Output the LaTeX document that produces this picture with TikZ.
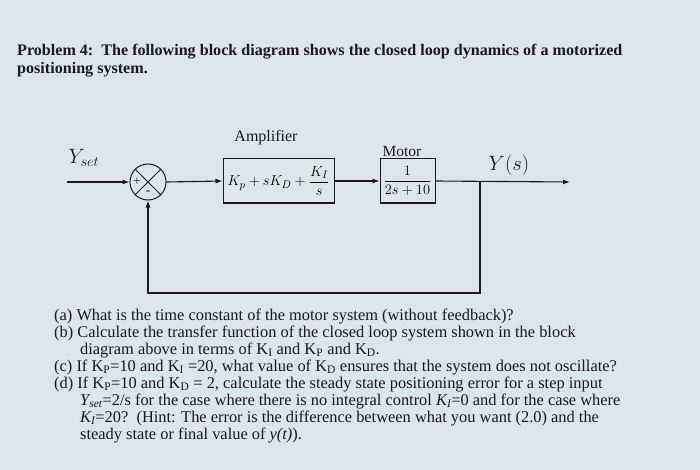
\documentclass[tikz,border=0pt]{standalone}
\usepackage{amsmath}
\usepackage{fontspec}
\setmainfont{Liberation Serif}
\usetikzlibrary{arrows.meta}
\definecolor{bg}{RGB}{222,229,232}
\definecolor{ink}{RGB}{25,25,30}
\tikzset{
  blk/.style={draw=ink,line width=1pt,minimum height=44pt,inner sep=2pt},
  sig/.style={draw=ink,line width=1.1pt,-{Latex[length=7pt,width=5pt]}},
  ln/.style={draw=ink,line width=1pt},
  txt/.style={anchor=base west,inner sep=0pt,text=ink,font=\fontsize{16.4}{17}\selectfont},
}
\begin{document}
\begin{tikzpicture}[x=1pt,y=-1pt]
\fill[bg] (0,0) rectangle (700,470);
\useasboundingbox (0,0) rectangle (700,470);
\node[txt,font=\fontsize{16.1}{17}\selectfont\bfseries] (t1) at (17,56) {Problem 4:\ \ The following block diagram shows the closed loop dynamics of a motorized};
\node[txt,font=\fontsize{16.1}{17}\selectfont\bfseries] (t2) at (17,74) {positioning system.};
% diagram
\node[circle,draw=ink,line width=1pt,minimum size=36pt,inner sep=0pt] (sum) at (148,182) {};
\draw[ln] (sum.north west) -- (sum.south east) (sum.north east) -- (sum.south west);
\node[text=ink,font=\fontsize{13}{13}\selectfont,inner sep=0pt] (plus) at (137,182) {+};
\node[text=ink,font=\fontsize{13}{13}\selectfont\bfseries,inner sep=0pt] (minus) at (148,193) {-};
\node[blk,minimum width=111pt,font=\fontsize{15}{17}\selectfont] (amp) at (278.5,181) {$K_p+sK_D+\dfrac{K_I}{s}$};
\node[blk,minimum width=55pt,font=\fontsize{14}{17}\selectfont] (mot) at (407.5,181) {$\dfrac{1}{2s+10}$};
\node[text=ink,font=\fontsize{16}{17}\selectfont] (al) at (266,138) {Amplifier};
\node[text=ink,font=\fontsize{15.5}{17}\selectfont] (ml) at (402,152) {Motor};
\node[text=ink,font=\fontsize{21}{24}\selectfont] (ys) at (509,165) {$Y(s)$};
\node[text=ink,font=\fontsize{21}{24}\selectfont] (yset) at (84,158) {$Y_{set}$};
\coordinate (in) at (67,182);
\coordinate (br) at (480,182);
\coordinate (out) at (570,182);
\coordinate (fb1) at (480,293);
\coordinate (fb2) at (148,293);
\draw[sig] (in) -- (sum.west);
\draw[sig] (sum.east) -- (amp.west);
\draw[sig] (amp.east) -- (mot.west);
\draw[sig] (mot.east) -- (out);
\draw[sig] (br) -- (fb1) -- (fb2) -- (sum.south);
% questions
\node[txt] (qa) at (54,320) {(a)\ What is the time constant of the motor system (without feedback)?};
\node[txt] (qb) at (54,337) {(b)\ Calculate the transfer function of the closed loop system shown in the block};
\node[txt] (qb2) at (80,354) {diagram above in terms of K\textsubscript{I} and K\textsubscript{P} and K\textsubscript{D}.};
\node[txt] (qc) at (54,371) {(c)\ If K\textsubscript{P}=10 and K\textsubscript{I} =20, what value of K\textsubscript{D} ensures that the system does not oscillate?};
\node[txt] (qd) at (54,388) {(d)\ If K\textsubscript{P}=10 and K\textsubscript{D} = 2, calculate the steady state positioning error for a step input};
\node[txt] (qd2) at (80,405) {\textit{Y\textsubscript{set}}=2/s for the case where there is no integral control \textit{K\textsubscript{I}}=0 and for the case where};
\node[txt] (qd3) at (80,422) {\textit{K\textsubscript{I}}=20?\ \ (Hint: The error is the difference between what you want (2.0) and the};
\node[txt] (qd4) at (80,439) {steady state or final value of \textit{y(t)}).};
\end{tikzpicture}
\end{document}
